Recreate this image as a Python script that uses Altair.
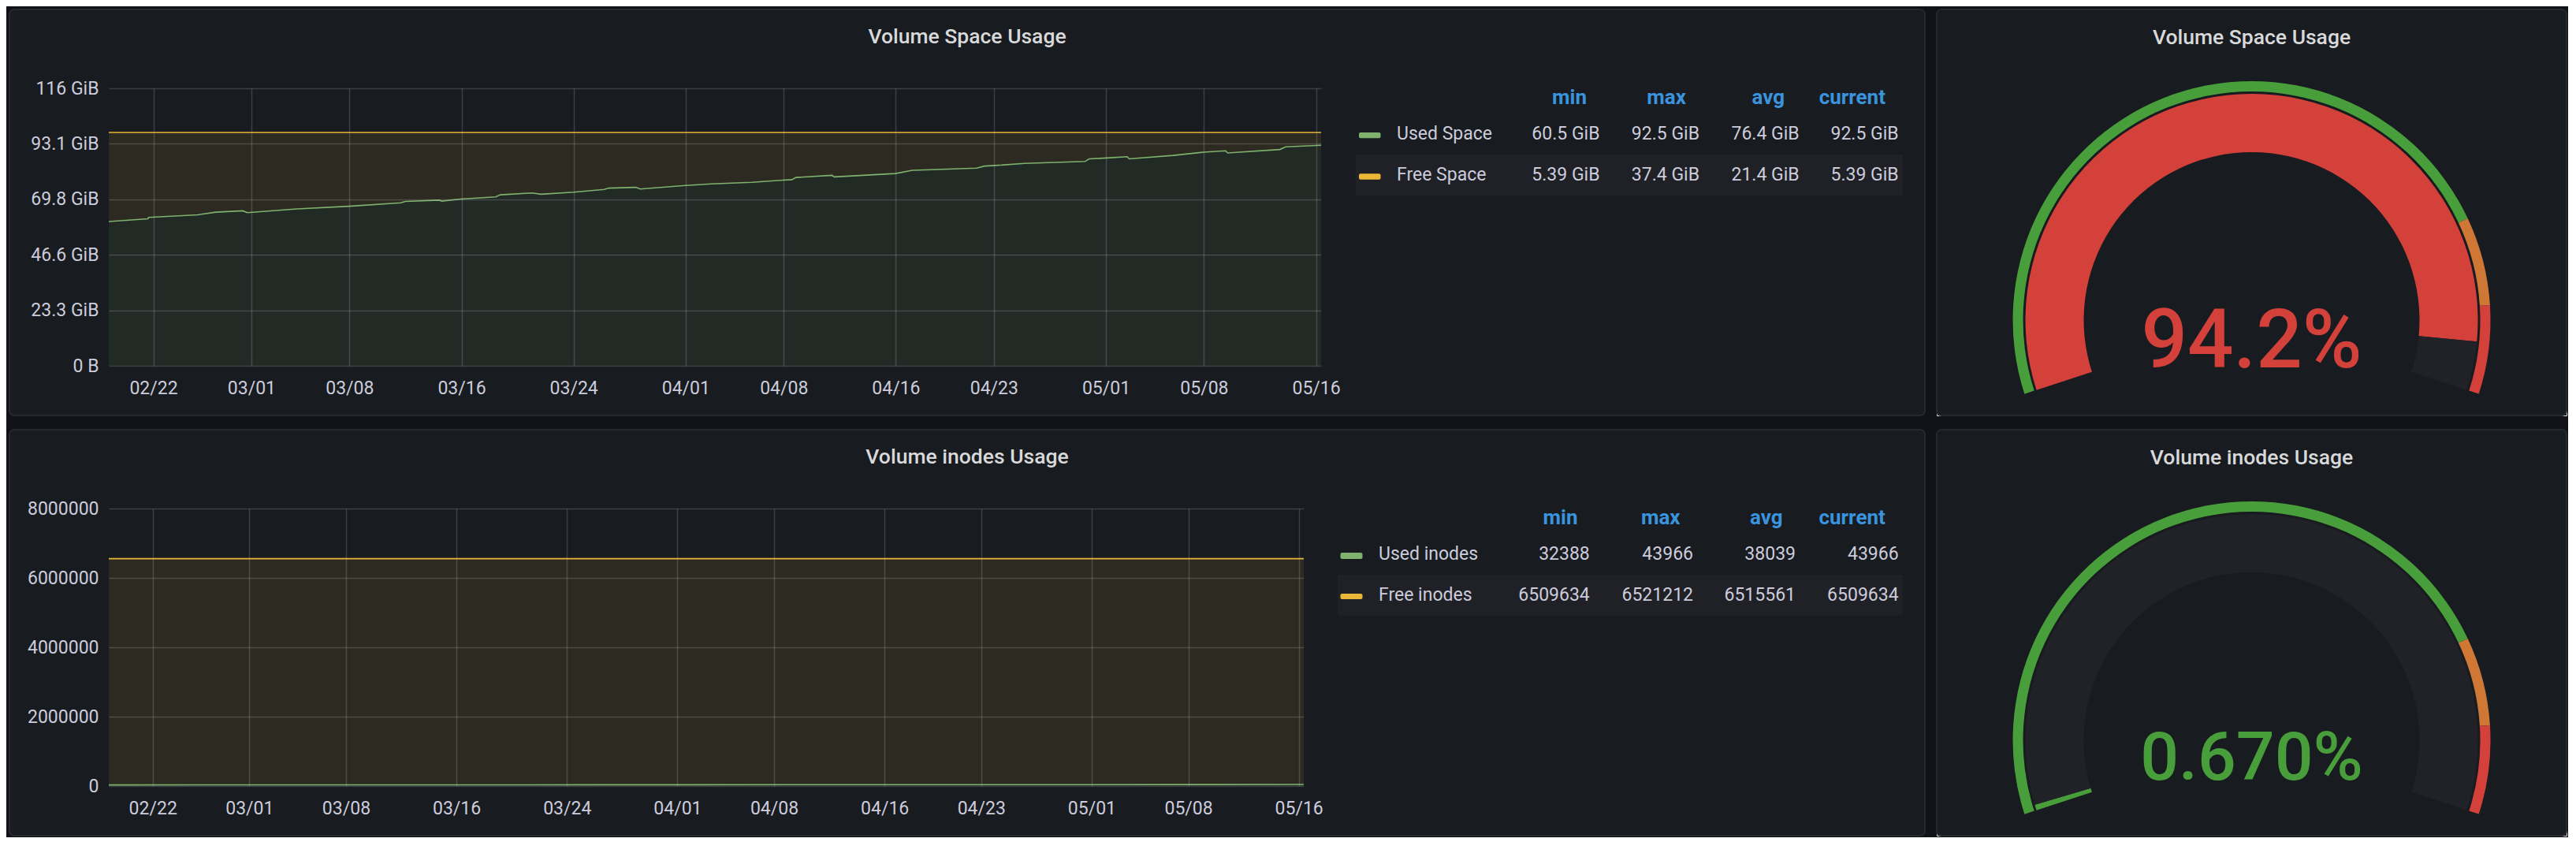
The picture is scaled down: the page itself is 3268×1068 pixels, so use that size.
import altair as alt
import pandas as pd

# ------------------------------------------------------------------ data
space_time = [
    "2021-02-18T19:40:00Z", "2021-02-21T14:38:00Z", "2021-02-21T16:00:00Z", "2021-02-25T03:50:00Z",
    "2021-02-26T10:48:00Z", "2021-02-28T09:07:00Z", "2021-02-28T17:02:00Z", "2021-03-04T06:00:00Z",
    "2021-03-07T23:17:00Z", "2021-03-11T16:05:00Z", "2021-03-11T23:46:00Z", "2021-03-14T10:05:00Z",
    "2021-03-14T14:00:00Z", "2021-03-15T22:19:00Z", "2021-03-18T10:34:00Z", "2021-03-18T18:29:00Z",
    "2021-03-21T00:29:00Z", "2021-03-21T16:05:00Z", "2021-03-24T00:29:00Z", "2021-03-26T04:34:00Z",
    "2021-03-26T12:14:00Z", "2021-03-28T10:34:00Z", "2021-03-28T18:14:00Z", "2021-03-31T23:46:00Z",
    "2021-04-02T20:24:00Z", "2021-04-05T17:17:00Z", "2021-04-07T22:48:00Z", "2021-04-08T13:55:00Z",
    "2021-04-08T20:53:00Z", "2021-04-11T10:48:00Z", "2021-04-11T14:24:00Z", "2021-04-15T23:31:00Z",
    "2021-04-17T04:34:00Z", "2021-04-18T21:36:00Z", "2021-04-21T18:29:00Z", "2021-04-22T08:10:00Z",
    "2021-04-23T02:10:00Z", "2021-04-25T05:02:00Z", "2021-04-29T12:14:00Z", "2021-04-29T19:12:00Z",
    "2021-05-01T01:26:00Z", "2021-05-02T12:29:00Z", "2021-05-02T15:50:00Z", "2021-05-05T19:26:00Z",
    "2021-05-07T23:46:00Z", "2021-05-09T12:58:00Z", "2021-05-09T16:34:00Z", "2021-05-13T09:50:00Z",
    "2021-05-13T20:10:00Z", "2021-05-16T08:38:00Z",
]
used_space_gib = [
    60.50, 61.68, 62.24, 63.33, 64.46, 65.02, 64.24, 65.81, 66.94, 68.39,
    68.95, 69.49, 69.10, 69.95, 70.84, 71.73, 72.53, 71.97, 72.86, 73.98,
    74.55, 74.88, 74.18, 75.64, 76.30, 76.99, 77.88, 78.10, 79.00, 79.90,
    79.24, 80.66, 82.00, 82.35, 82.91, 83.80, 84.04, 84.93, 85.72, 86.82,
    87.18, 87.71, 86.82, 88.27, 89.63, 90.19, 89.30, 90.75, 91.87, 92.50,
]
free_space_gib = [
    37.39, 36.21, 35.65, 34.56, 33.43, 32.87, 33.65, 32.08, 30.95, 29.50,
    28.94, 28.40, 28.79, 27.94, 27.05, 26.16, 25.36, 25.92, 25.03, 23.91,
    23.34, 23.01, 23.71, 22.25, 21.59, 20.90, 20.01, 19.79, 18.89, 17.99,
    18.65, 17.23, 15.89, 15.54, 14.98, 14.09, 13.85, 12.96, 12.17, 11.07,
    10.71, 10.18, 11.07, 9.62, 8.26, 7.70, 8.59, 7.14, 6.02, 5.39,
]

inode_time = [
    "2021-02-18T19:40:00Z", "2021-03-01T00:00:00Z", "2021-03-11T00:00:00Z", "2021-03-21T00:00:00Z",
    "2021-04-01T00:00:00Z", "2021-04-11T00:00:00Z", "2021-04-21T00:00:00Z", "2021-05-01T00:00:00Z",
    "2021-05-09T00:00:00Z", "2021-05-16T08:38:00Z",
]
used_inodes = [32388, 33400, 34500, 35600, 37000, 38300, 39700, 41200, 42500, 43966]
free_inodes = [6521212, 6520200, 6519100, 6518000, 6516600, 6515300, 6513900, 6512400, 6511100, 6509634]

time_range = ["2021-02-18T19:40", "2021-05-16T08:38"]
date_ticks = ["2021-02-22", "2021-03-01", "2021-03-08", "2021-03-16", "2021-03-24", "2021-04-01",
              "2021-04-08", "2021-04-16", "2021-04-23", "2021-05-01", "2021-05-08", "2021-05-16"]
space_ticks_gib = [0, 23.2831, 46.5661, 69.8492, 93.1323, 116.4153]
inode_ticks = [0, 2000000, 4000000, 6000000, 8000000]

legend_header = ["min", "max", "avg", "current"]
space_series = ["Used Space", "Free Space"]
space_stats = [["60.5 GiB", "92.5 GiB", "76.4 GiB", "92.5 GiB"],
               ["5.39 GiB", "37.4 GiB", "21.4 GiB", "5.39 GiB"]]
inode_series = ["Used inodes", "Free inodes"]
inode_stats = [["32388", "43966", "38039", "43966"],
               ["6509634", "6521212", "6515561", "6509634"]]

panel_titles = ["Volume Space Usage", "Volume inodes Usage"]
gauge_values = [94.2, 0.670]
gauge_labels = ["94.2%", "0.670%"]
gauge_thresholds = [0, 80, 90, 100]

# ------------------------------------------------------------------ style
FONT = "Roboto"
CANVAS = "#111217"
PANEL = "#181b1f"
BORDER = "#25282d"
TXT = "#ccccdc"
TITLE_TXT = "#d8d9da"
BLUE = "#3a94dd"
SER_GREEN = "#7eb26d"
SER_YELLOW = "#eab839"
G_GREEN = "#489e3a"
G_ORANGE = "#cf7836"
G_RED = "#d4413a"
TRACK = "#212227"
ROWBG = "#202126"
PANEL_W_TS = 2430
PANEL_W_G = 799
PANEL_H = 515
TOP = 100      # panel top -> plot top
LEFT = 126     # panel left -> plot left

ONE = pd.DataFrame({"k": [0]})


def dt(s):
    d = pd.Timestamp(s)
    return alt.DateTime(year=d.year, month=d.month, date=d.day, hours=d.hour, minutes=d.minute, utc=True)


def box(x0, x1, y0, y1, fill, stroke=None, sw=0, cr=0):
    kw = dict(fill=fill, cornerRadius=cr)
    if stroke:
        kw.update(stroke=stroke, strokeWidth=sw)
    return alt.Chart(ONE).mark_rect(**kw).encode(
        x=alt.value(x0), x2=alt.value(x1), y=alt.value(y0), y2=alt.value(y1))


def label(txt, x, y, size, color, align="left", weight="normal"):
    return alt.Chart(ONE).mark_text(
        align=align, baseline="alphabetic", fontSize=size, fontWeight=weight, color=color, font=FONT
    ).encode(x=alt.value(x), y=alt.value(y), text=alt.value(txt))


def ts_chart(times, names, vals_a, vals_b, ydomain, yticks, ylabel_expr, width, title, leg):
    n = len(times)
    df = pd.DataFrame({
        "time": list(times) * 2,
        "value": list(vals_a) + list(vals_b),
        "series": [names[0]] * n + [names[1]] * n,
        "ord": [0] * n + [1] * n,
    })
    height = 352
    axis_common = dict(ticks=False, domain=False, labelFontSize=23, labelColor=TXT, labelFont=FONT,
                       gridColor="#ccccdc", gridOpacity=0.2, gridWidth=1.5, zindex=1, title=None)
    area = alt.Chart(df).mark_area(fillOpacity=0.1, line=alt.OverlayMarkDef(strokeWidth=1.6)).encode(
        x=alt.X("time:T",
                scale=alt.Scale(type="utc", domain=[dt(t) for t in time_range], nice=False),
                axis=alt.Axis(values=[dt(t) for t in date_ticks],
                              labelExpr="utcFormat(datum.value, '%m/%d')",
                              labelFlush=False, labelOverlap=False, labelPadding=17, **axis_common)),
        y=alt.Y("value:Q", stack="zero",
                scale=alt.Scale(domain=ydomain, nice=False, zero=True),
                axis=alt.Axis(values=yticks, labelExpr=ylabel_expr, labelPadding=13, **axis_common)),
        color=alt.Color("series:N", scale=alt.Scale(domain=names, range=[SER_GREEN, SER_YELLOW]), legend=None),
        order=alt.Order("ord:Q"),
    )
    layers = [box(-LEFT, PANEL_W_TS - LEFT, -TOP, PANEL_H - TOP, PANEL, BORDER, 2, 6),
              box(leg["bg_x"][0], leg["bg_x"][1], leg["bg_y"][0], leg["bg_y"][1], ROWBG),
              area,
              label(title, PANEL_W_TS / 2 - LEFT, -57, 26.5, TITLE_TXT, "center", 500)]
    for i, h in enumerate(legend_header):
        layers.append(label(h, leg["head_r"][i], leg["head_base"], 26, BLUE, "right", "bold"))
    colors = [SER_GREEN, SER_YELLOW]
    for r in range(2):
        sy = leg["sw_y"][r]
        layers.append(box(leg["sw_x"][0], leg["sw_x"][1], sy[0], sy[1], colors[r], cr=2))
        layers.append(label(names[r], leg["label_x"], leg["row_base"][r], 23, TXT))
        for i in range(4):
            layers.append(label(leg["stats"][r][i], leg["val_r"][i], leg["row_base"][r], 23, TXT, "right"))
    return alt.layer(*layers).properties(width=width, height=height)


def gauge(value, vlabel, title, fsize, tbase):
    # coordinates relative to a point TOP px below the panel top (keeps rows aligned)
    cx, cy = 399.5, 394 - TOP
    th = gauge_thresholds
    bands = pd.DataFrame({"start": [th[0] / 100, th[1] / 100, th[2] / 100],
                          "end": [th[1] / 100, th[2] / 100, th[3] / 100],
                          "color": [G_GREEN, G_ORANGE, G_RED]})
    color = G_GREEN if value < th[1] else (G_ORANGE if value < th[2] else G_RED)
    main = pd.DataFrame({"start": [0, value / 100], "end": [value / 100, 1], "color": [color, TRACK]})
    theta_scale = alt.Scale(domain=[0, 1], range=[4.3982, 8.1681])

    def arc(df, r1, r2):
        return alt.Chart(df).mark_arc(radius=r1, radius2=r2).encode(
            theta=alt.Theta("start:Q", scale=theta_scale),
            theta2=alt.Theta2("end:Q"),
            color=alt.Color("color:N", scale=None),
            x=alt.value(cx), y=alt.value(cy))

    layers = [box(0, PANEL_W_G, -TOP, PANEL_H - TOP, PANEL, BORDER, 2, 6),
              label(title, cx, 43.5 - TOP, 26.5, TITLE_TXT, "center", 500),
              arc(bands, 303, 290),
              arc(main, 287, 213),
              label(vlabel, cx, tbase - TOP, fsize, color, "center", 500)]
    return alt.layer(*layers).properties(width=PANEL_W_G, height=PANEL_H - TOP)


leg_top = dict(bg_x=(1582, 2276), bg_y=(84, 136), sw_x=(1586, 1613.5), sw_y=[(56, 63.3), (108.3, 115.7)],
               label_x=1634, row_base=[65, 116.7], head_r=[1875, 2001, 2126, 2254], head_base=20,
               val_r=[1891.5, 2018, 2144.6, 2270.6], stats=space_stats)
leg_bot = dict(bg_x=(1559, 2275.7), bg_y=(84, 135.7), sw_x=(1562.5, 1590.5), sw_y=[(56, 64), (108, 115)],
               label_x=1611, row_base=[65.3, 117.3], head_r=[1863.5, 1993.6, 2123.7, 2253.8], head_base=20.3,
               val_r=[1878.8, 2010, 2140, 2270.6], stats=inode_stats)

ts1 = ts_chart(space_time, space_series, used_space_gib, free_space_gib, [0, 116.4154], space_ticks_gib,
               "datum.value == 0 ? '0 B' : format(datum.value, '.3~r') + ' GiB'", 1538,
               panel_titles[0], leg_top)
ts2 = ts_chart(inode_time, inode_series, used_inodes, free_inodes, [0, 8000000], inode_ticks,
               "format(datum.value, 'd')", 1516, panel_titles[1], leg_bot)
g1 = gauge(gauge_values[0], gauge_labels[0], panel_titles[0], 103, 454)
g2 = gauge(gauge_values[1], gauge_labels[1], panel_titles[1], 86, 444)

row1 = alt.hconcat(ts1, g1, spacing=11)
row2 = alt.hconcat(ts2, g2, spacing=11)
chart = alt.vconcat(row1, row2, spacing=14).properties(
    background=CANVAS,
    padding={"left": 2, "top": 2, "right": 0, "bottom": 0},
).configure_view(strokeWidth=0).configure(font=FONT)

chart.save("out.html", embed_options={"renderer": "svg", "actions": False})
